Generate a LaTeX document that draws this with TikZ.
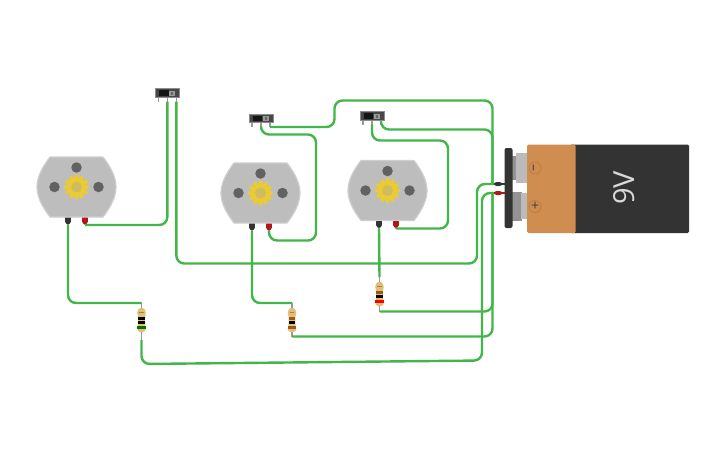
\documentclass[tikz,border=0pt]{standalone}
\usepackage{fontspec}
\setmainfont{Open Sans}
\definecolor{wirec}{HTML}{43B649}
\definecolor{motorf}{HTML}{BDBDBD}
\definecolor{motorb}{HTML}{CFCFCF}
\definecolor{holec}{HTML}{626262}
\definecolor{gearc}{HTML}{EBCB2F}
\definecolor{gearm}{HTML}{CFBB62}
\definecolor{leadc}{HTML}{999999}
\definecolor{redp}{HTML}{B01818}
\definecolor{blackp}{HTML}{333333}
\definecolor{bodyc}{HTML}{E2BE77}
\definecolor{bandbrown}{HTML}{9A5A1E}
\definecolor{orangeb}{HTML}{CF8D50}
\definecolor{darkb}{HTML}{333333}
\definecolor{termd}{HTML}{939393}
\definecolor{terml}{HTML}{BBBBBB}
\definecolor{ringc}{HTML}{B87D45}
\tikzset{
  x=1pt,y=-1pt,
  wire/.style={draw=wirec,line width=2.4pt,rounded corners=8pt},
  lead/.style={draw=leadc,line width=1.4pt},
  hole/.style={circle,fill=holec,minimum size=10.5pt,inner sep=0pt},
  polar/.style={circle,draw=ringc,line width=0.7pt,minimum size=12pt,inner sep=0pt,font=\fontsize{14}{14}\selectfont,text=black!75},
}
\newcommand{\motor}[3]{%
  \begin{scope}[shift={(#2,#3)}]
    \fill[draw=motorb,fill=motorf,line width=1.2pt,line join=round]
      (-26.5,-30) -- (26.5,-30) .. controls (35,-19) and (39.5,-9) .. (39.5,0)
      .. controls (39.5,9) and (35,19) .. (26.5,30) -- (-26.5,30)
      .. controls (-35,19) and (-39.5,9) .. (-39.5,0)
      .. controls (-39.5,-9) and (-35,-19) .. (-26.5,-30) -- cycle;
    \node[hole] (#1-top) at (0,-19.5) {};
    \node[hole] (#1-left) at (-22,0) {};
    \node[hole] (#1-right) at (22,0) {};
    \foreach \a in {0,30,...,330}
      \fill[gearc,rotate=\a] (-1.3,-12.4) -- (1.3,-12.4) -- (2.4,-8) -- (-2.4,-8) -- cycle;
    \fill[gearc] (0,0) circle (9);
    \fill[gearm] (0,0) circle (5.5);
    \draw[lead] (-8.5,35) -- (-8.5,38);
    \draw[lead] (8.5,35) -- (8.5,38);
    \fill[blackp,rounded corners=0.4pt] (-11.3,30.5) -- (-5.7,30.5) -- (-5.7,35) -- (-7,37) -- (-10,37) -- (-11.3,35) -- cycle;
    \fill[redp,rounded corners=0.4pt] (5.7,30.5) -- (11.3,30.5) -- (11.3,35) -- (10,37) -- (7,37) -- (5.7,35) -- cycle;
    \coordinate (#1-b) at (-8.5,38);
    \coordinate (#1-r) at (8.5,38);
  \end{scope}}
\newcommand{\switch}[3]{%
  \begin{scope}[shift={(#2,#3)}]
    \draw[lead] (-9,4) -- (-9,9);
    \draw[lead] (0,4) -- (0,9);
    \draw[lead] (9,4) -- (9,9);
    \fill[draw=black!45,fill=black!72,line width=0.6pt] (-12,-4) rectangle (12,4.5);
    \fill[black!92] (-8.5,-2.5) rectangle (1.3,3);
    \fill[black!40] (2,-2) rectangle (8,3);
    \fill[black!60] (4,-1) rectangle (6,2);
    \coordinate (#1-l) at (0,9);
    \coordinate (#1-g) at (9,9);
  \end{scope}}
\newcommand{\resistor}[7]{%
  \begin{scope}[shift={(#2,#3)}]
    \draw[lead] (0,-#4) -- (0,#5);
    \fill[bodyc] (-1.5,-12) .. controls (-3,-11.5) and (-4.3,-9) .. (-4.3,-7)
      .. controls (-4.3,-5) and (-3.3,-5) .. (-3.3,-3) -- (-3.3,4)
      .. controls (-3.3,6) and (-4.3,7) .. (-4.3,8.5)
      .. controls (-4.3,10.5) and (-3,12) .. (-1.5,12) -- (1.5,12)
      .. controls (3,12) and (4.3,10.5) .. (4.3,8.5)
      .. controls (4.3,7) and (3.3,6) .. (3.3,4) -- (3.3,-3)
      .. controls (3.3,-5) and (4.3,-5) .. (4.3,-7)
      .. controls (4.3,-9) and (3,-11.5) .. (1.5,-12) -- cycle;
    \fill[black!30!bodyc] (-2.4,-8) rectangle (2.4,-6.8);
    \fill[#6] (-3.4,-3) rectangle (3.4,-0.2);
    \fill[black] (-3.4,1.3) rectangle (3.4,4);
    \fill[#7] (-4.3,5.6) rectangle (4.3,8.8);
    \coordinate (#1-t) at (0,-#4);
    \coordinate (#1-b) at (0,#5);
  \end{scope}}
\begin{document}
\begin{tikzpicture}
\useasboundingbox (0,0) rectangle (725,453);
\fill[white] (0,0) rectangle (725,453);
\motor{ma}{76.5}{187}
\motor{mb}{260.5}{193}
\motor{mc}{387.5}{190.5}
\switch{sa}{167.3}{92.5}
\switch{sb}{261}{118}
\switch{sc}{372}{115.5}
\resistor{ra}{141.5}{320}{17}{20}{black}{green!45!black}
\resistor{rb}{292}{320}{17}{16.5}{bandbrown}{bandbrown}
\resistor{rc}{379.5}{294}{17}{17.5}{bandbrown}{red}
% battery
\fill[termd] (512,156) rectangle (517,180);
\fill[terml] (516,153) rectangle (528,183);
\fill[termd] (512,192) rectangle (522,221);
\fill[terml] (521,193) rectangle (528,219);
\fill[darkb,rounded corners=2pt] (504.5,148) rectangle (512.5,228);
\fill[darkb,rounded corners=1.5pt] (570,144.5) rectangle (689,233);
\fill[orangeb,rounded corners=1.5pt] (527,144.5) rectangle (575.5,233);
\fill[orangeb] (570,144.5) rectangle (575,233);
\node[inner sep=0pt,text=white!85!black,rotate=90,font=\fontsize{29}{29}\selectfont] (volt) at (624,188) {9V};
\node[polar,rotate=90] (minus) at (535,168) {–};
\node[polar] (plus) at (535,206.5) {+};
\coordinate (batneg) at (497,184);
\coordinate (batnegj) at (492.5,184);
\coordinate (batpos) at (497,193);
\coordinate (batposj) at (492.5,193);
\draw[blackp,line width=1.2pt] (500,184) -- (505,184);
\draw[redp,line width=1.2pt] (500,193) -- (505,193);
% wires
\draw[wire] (ma-r) -- (sa-l |- ma-r) -- (sa-l);
\draw[wire] (sa-g) |- (477,263.5) |- (batneg);
\draw[wire] (ma-b) |- (ra-t);
\draw[wire] (ra-b) -- (141.5,364) -- (482,360.5) |- (batpos);
\draw[wire] (mb-b) |- (rb-t);
\draw[wire] (rb-b) -- (batposj |- rb-b) -- (batposj);
\draw[wire] (mb-r) |- (316,240.5) |- (sb-l |- 0,134.5) -- (sb-l);
\draw[wire] (sb-g) -- (334.5,127) |- (492.5,100.5) -- (batnegj);
\draw[wire] (mc-r) -- (448,228.5) |- (sc-l |- 0,140.5) -- (sc-l);
\draw[wire] (sc-g) |- (492.5,129.5) -- (batnegj);
\draw[wire] (mc-b) -- (rc-t);
\draw[wire] (rc-b) -- (batposj |- rc-b) -- (batposj);
% battery leads over wires
\fill[blackp,rounded corners=0.8pt] (493.5,184) -- (496,182) -- (500,182) -- (502,183) -- (502,185) -- (500,186) -- (496,186) -- cycle;
\fill[redp,rounded corners=0.8pt] (493.5,193) -- (496,191) -- (500,191) -- (502,192) -- (502,194) -- (500,195) -- (496,195) -- cycle;
\end{tikzpicture}
\end{document}
